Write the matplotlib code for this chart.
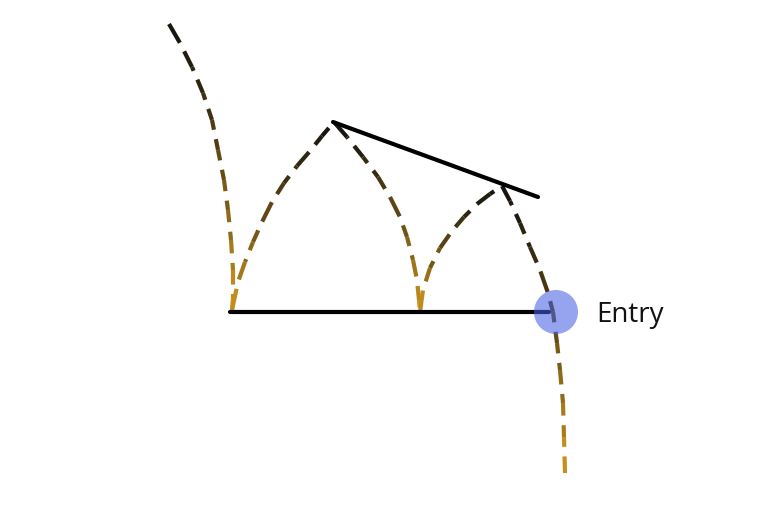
import numpy as np
import matplotlib
matplotlib.use("Agg")
import matplotlib.pyplot as plt
from matplotlib.collections import LineCollection
from matplotlib.patches import Circle

# Swings of price (pixel coords, y grows downward)
swing_a_x = [169, 180, 192, 203, 212, 218, 224, 228, 231, 233, 233, 232]
swing_a_y = [24, 43, 67, 93, 120, 150, 180, 210, 240, 270, 297, 310]

swing_b_x = [232, 238, 245, 253, 262, 272, 284, 297, 310, 322, 334]
swing_b_y = [310, 282, 262, 242, 222, 202, 183, 166, 151, 136, 122]

swing_c_x = [334, 347, 363, 378, 390, 400, 407, 413, 417, 419, 420]
swing_c_y = [122, 137, 157, 177, 197, 217, 237, 260, 280, 300, 312]

swing_d_x = [420, 423, 430, 440, 452, 464, 477, 490, 502]
swing_d_y = [312, 290, 268, 248, 231, 217, 204, 194, 186]

swing_e_x = [502, 510, 520, 530, 540, 548, 553, 557, 560, 563, 564, 565]
swing_e_y = [186, 201, 223, 247, 270, 293, 312, 343, 370, 403, 437, 473]

swings = [(swing_a_x, swing_a_y), (swing_b_x, swing_b_y), (swing_c_x, swing_c_y),
          (swing_d_x, swing_d_y), (swing_e_x, swing_e_y)]

# Support and resistance lines
support_x = [230, 549]
support_y = [312, 312]
resist_x = [333, 538]
resist_y = [122, 197]

entry_x, entry_y = 556, 312
entry_label = "Entry"

W, H = 768, 521
fig = plt.figure(figsize=(W / 100, H / 100), dpi=100)
ax = fig.add_axes([0, 0, 1, 1])
ax.set_xlim(0, W)
ax.set_ylim(H, 0)
ax.axis("off")

dark = np.array([22, 20, 16]) / 255
gold = np.array([210, 154, 30]) / 255
lw = 3.0
on, off = 5.2, 2.3
px2pt = 72 / 100

for xs, ys in swings:
    xs = np.asarray(xs, float)
    ys = np.asarray(ys, float)
    top, bot = ys.min(), ys.max()
    segs, cols, styles = [], [], []
    run = 0.0
    for i in range(len(xs) - 1):
        p0 = (xs[i], ys[i])
        p1 = (xs[i + 1], ys[i + 1])
        segs.append([p0, p1])
        f = ((ys[i] + ys[i + 1]) / 2 - top) / (bot - top)
        cols.append(dark + (gold - dark) * f ** 1.25)
        styles.append((run * px2pt / lw, (on, off)))
        run += np.hypot(p1[0] - p0[0], p1[1] - p0[1])
    lc = LineCollection(segs, colors=cols, linewidths=lw, linestyles=styles,
                        capstyle="butt", zorder=2)
    ax.add_collection(lc)

ax.plot(support_x, support_y, color="black", lw=3.0, solid_capstyle="round", zorder=3)
ax.plot(resist_x, resist_y, color="black", lw=3.0, solid_capstyle="round", zorder=3)

ax.add_patch(Circle((entry_x, entry_y), 22, color=(70 / 255, 96 / 255, 228 / 255),
                    alpha=0.57, lw=0, zorder=4))
ax.text(596, 322, entry_label, fontsize=20, family="Open Sans",
        ha="left", va="baseline", color="#111111")

fig.savefig("out.png", dpi=100, facecolor="white")
